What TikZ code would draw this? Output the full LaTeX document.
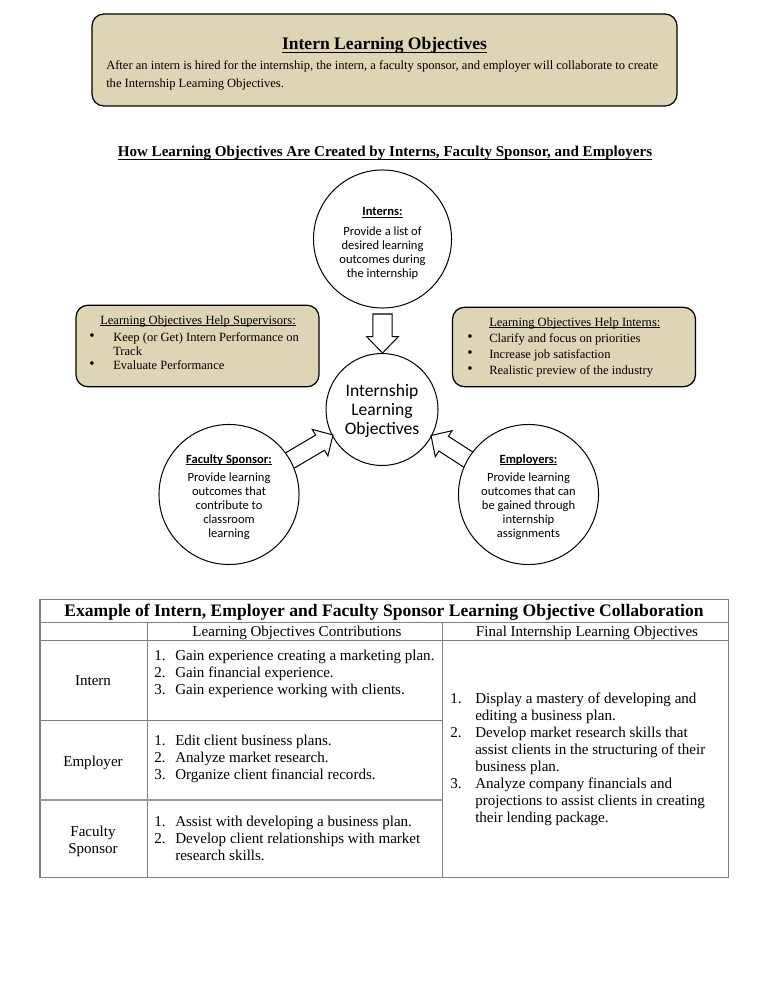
\documentclass[tikz,border=0pt]{standalone}
\usepackage{fontspec}
\setmainfont{Liberation Serif}
\newfontfamily\calib{Carlito}
\usetikzlibrary{calc}
\definecolor{tanfill}{HTML}{DDD5B3}
\definecolor{tablegray}{HTML}{7F7F7F}
\newcommand{\blkarrow}[5]{%
  \coordinate (#2-b) at ($(#2)!#5!(#1)$);
  \draw[blockarr] ($(#1)!#3!90:(#2)$) -- ($(#2-b)!#3!90:(#2)$) -- ($(#2-b)!#4!90:(#2)$) -- (#2)
    -- ($(#2-b)!#4!-90:(#2)$) -- ($(#2-b)!#3!-90:(#2)$) -- ($(#1)!#3!-90:(#2)$) -- cycle;}
\newcommand{\bigbullet}{\raisebox{0.1ex}{\fontsize{12}{12}\selectfont\textbullet}}
\newcommand{\myul}[1]{\setbox0\hbox{#1}\rlap{\rule[-0.16em]{\wd0}{0.06em}}\box0}
\begin{document}
\begin{tikzpicture}[x=0.796875pt,y=-0.796875pt,
  tanbox/.style={draw=black, line width=1pt, fill=tanfill, rounded corners=9.5pt, inner sep=0pt},
  circ/.style={draw=black, line width=0.8pt, fill=white, circle, inner sep=0pt},
  blockarr/.style={draw=black, line width=0.8pt, fill=white, line join=miter},
  txt/.style={inner sep=0pt, font=\fontsize{10}{12}\selectfont},
  ctxt/.style={inner sep=0pt, font=\calib\fontsize{10}{12}\selectfont},
  ttxt/.style={inner sep=0pt, font=\fontsize{12}{14}\selectfont},
  tline/.style={draw=tablegray, line width=0.8pt}]
\useasboundingbox (0,0) rectangle (768,994);
\fill[white] (0,0) rectangle (768,994);

% top box
\node[tanbox, minimum width=466.2pt, minimum height=73.3pt] (topbox) at (384.5,60) {};
\node[inner sep=0pt, anchor=base, font=\bfseries\fontsize{14}{16}\selectfont] (toptitle) at (384.5,50) {\myul{Intern Learning Objectives}};
\node[txt, anchor=base west] (topl1) at (106,70) {After an intern is hired for the internship, the intern, a faculty sponsor, and employer will collaborate to create};
\node[txt, anchor=base west] (topl2) at (106,87.5) {the Internship Learning Objectives.};

% heading
\node[inner sep=0pt, anchor=base, font=\bfseries\fontsize{12}{14}\selectfont] (heading) at (385,157) {\myul{How Learning Objectives Are Created by Interns, Faculty Sponsor, and Employers}};

% side boxes
\node[tanbox, minimum width=193.6pt, minimum height=65pt] (supbox) at (197.5,346) {};
\node[txt, anchor=base west] (suph) at (100,324) {\myul{Learning Objectives Help Supervisors:}};
\node[txt, anchor=base] (supb1) at (92,341) {\bigbullet};
\node[txt, anchor=base west] (supt1) at (113,341) {Keep (or Get) Intern Performance on};
\node[txt, anchor=base west] (supt1b) at (113,355) {Track};
\node[txt, anchor=base] (supb2) at (92,369) {\bigbullet};
\node[txt, anchor=base west] (supt2) at (113,369) {Evaluate Performance};

\node[tanbox, minimum width=193.6pt, minimum height=63.3pt] (intbox) at (574,347) {};
\node[txt, anchor=base west] (inth) at (489,326) {\myul{Learning Objectives Help Interns:}};
\foreach \t [count=\i] in {Clarify and focus on priorities, Increase job satisfaction, Realistic preview of the industry}{
  \node[txt, anchor=base] (intb\i) at (470,{342+16*(\i-1)}) {\bigbullet};
  \node[txt, anchor=base west] (intt\i) at (489,{342+16*(\i-1)}) {\t};
}

% circles
\node[circ, minimum size=89.25pt] (center) at (382,409.5) {};
\node[ctxt, anchor=base, font=\calib\fontsize{14}{16}\selectfont] (c1) at (382,396.7) {Internship};
\node[ctxt, anchor=base, font=\calib\fontsize{14}{16}\selectfont] (c2) at (382,415.5) {Learning};
\node[ctxt, anchor=base, font=\calib\fontsize{14}{16}\selectfont] (c3) at (382,434) {Objectives};

\node[circ, minimum size=110pt] (interns) at (382.5,239) {};
\node[ctxt, anchor=base, font=\calib\bfseries\fontsize{10}{12}\selectfont] (ih) at (382.5,216) {\myul{Interns:}};
\foreach \t [count=\i] in {Provide a list of, desired learning, outcomes during, the internship}{
  \node[ctxt, anchor=base] (il\i) at (382.5,{235.5+14*(\i-1)}) {\t};
}

% block arrows
\coordinate (dtail) at (382.5,314);
\coordinate (dtip) at (382.5,353);
\blkarrow{dtail}{dtip}{7.6pt}{12.6pt}{13pt}
\coordinate (ftail) at (284,464);
\coordinate (ftip) at (333,435);
\blkarrow{ftail}{ftip}{7pt}{12.3pt}{12pt}
\coordinate (etail) at (472,462);
\coordinate (etip) at (431,435.5);
\blkarrow{etail}{etip}{7pt}{12.3pt}{12pt}

\node[circ, minimum size=111.6pt] (faculty) at (229,494.5) {};
\node[ctxt, anchor=base, font=\calib\bfseries\fontsize{10}{12}\selectfont] (fh) at (229,463) {\myul{Faculty Sponsor:}};
\foreach \t [count=\i] in {Provide learning, outcomes that, contribute to, classroom, learning}{
  \node[ctxt, anchor=base] (fl\i) at (229,{481+14*(\i-1)}) {\t};
}

\node[circ, minimum size=111.6pt] (employers) at (528.5,494.5) {};
\node[ctxt, anchor=base, font=\calib\bfseries\fontsize{10}{12}\selectfont] (eh) at (528.5,463) {\myul{Employers:}};
\foreach \t [count=\i] in {Provide learning, outcomes that can, be gained through, internship, assignments}{
  \node[ctxt, anchor=base] (el\i) at (528.5,{481+14*(\i-1)}) {\t};
}

% table
\draw[tline] (40,599) rectangle (728,877);
\draw[tline] (40,622) -- (728,622);
\draw[tline] (40,640) -- (728,640);
\draw[tline] (147,622) -- (147,877);
\draw[tline] (442,622) -- (442,877);
\draw[tline] (40,720) -- (442,720);
\draw[tline, line width=1.2pt, draw=tablegray!80] (40,800) -- (442,800);

\node[inner sep=0pt, anchor=base, font=\bfseries\fontsize{14}{16}\selectfont] (ttitle) at (384,616) {Example of Intern, Employer and Faculty Sponsor Learning Objective Collaboration};
\node[ttxt, anchor=base] (th1) at (297,636) {Learning Objectives Contributions};
\node[ttxt, anchor=base] (th2) at (587,636) {Final Internship Learning Objectives};

\node[ttxt, anchor=base] (rintern) at (93,685) {Intern};
\node[ttxt, anchor=base] (remployer) at (93,766) {Employer};
\node[ttxt, anchor=base] (rfac1) at (93,836) {Faculty};
\node[ttxt, anchor=base] (rfac2) at (93,853) {Sponsor};

\foreach \n/\t [count=\i] in {1./Gain experience creating a marketing plan., 2./Gain financial experience., 3./Gain experience working with clients.}{
  \node[ttxt, anchor=base east] (in\i) at (166,{660+17*(\i-1)}) {\n};
  \node[ttxt, anchor=base west] (it\i) at (175,{660+17*(\i-1)}) {\t};
}
\foreach \n/\t [count=\i] in {1./Edit client business plans., 2./Analyze market research., 3./Organize client financial records.}{
  \node[ttxt, anchor=base east] (en\i) at (166,{745+17*(\i-1)}) {\n};
  \node[ttxt, anchor=base west] (et\i) at (175,{745+17*(\i-1)}) {\t};
}
\foreach \n/\t [count=\i] in {1./Assist with developing a business plan., 2./Develop client relationships with market, /research skills.}{
  \node[ttxt, anchor=base east] (fn\i) at (166,{826+17*(\i-1)}) {\n};
  \node[ttxt, anchor=base west] (ft\i) at (175,{826+17*(\i-1)}) {\t};
}
\foreach \n/\t [count=\i] in {1./Display a mastery of developing and, /editing a business plan., 2./Develop market research skills that, /assist clients in the structuring of their, /business plan., 3./Analyze company financials and, /projections to assist clients in creating, /their lending package.}{
  \node[ttxt, anchor=base east] (gn\i) at (462,{703+17.1*(\i-1)}) {\n};
  \node[ttxt, anchor=base west] (gt\i) at (475,{703+17.1*(\i-1)}) {\t};
}
\end{tikzpicture}
\end{document}
